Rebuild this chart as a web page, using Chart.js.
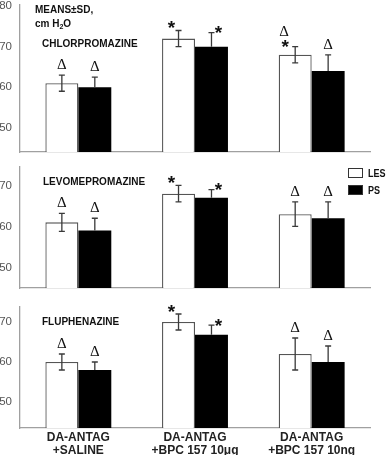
<!DOCTYPE html>
<html>
<head>
<meta charset="utf-8">
<script src="https://cdn.jsdelivr.net/npm/chart.js@4"></script>
<style>
  html, body { margin: 0; padding: 0; background: #fff; }
  #wrap { position: relative; width: 387px; height: 455px; }
  canvas { position: absolute; left: 0; }
</style>
</head>
<body>
<div id="wrap">
  <canvas id="p1" width="387" height="160" style="top:0"></canvas>
  <canvas id="p2" width="387" height="140" style="top:160px"></canvas>
  <canvas id="p3" width="387" height="155" style="top:300px"></canvas>
</div>
<script>
// ---- data ----
const groups = [
  ["DA-ANTAG", "+SALINE"],
  ["DA-ANTAG", "+BPC 157 10μg"],
  ["DA-ANTAG", "+BPC 157 10ng"],
];
const seriesNames = ["LES", "PS"];
const drugs = ["CHLORPROMAZINE", "LEVOMEPROMAZINE", "FLUPHENAZINE"];

// chlorpromazine
const lesChlor = [61, 72, 68];
const lesChlorSd = [2, 2, 2];
const psChlor = [60, 70, 64];
const psChlorSd = [2.5, 3.5, 4];
const lesChlorMark = ["Δ", "*", "Δ*"];
const psChlorMark = ["Δ", "*", "Δ"];

// levomepromazine
const lesLevo = [61, 68, 63];
const lesLevoSd = [2.2, 2, 3];
const psLevo = [59, 67, 62];
const psLevoSd = [3, 2, 4];
const lesLevoMark = ["Δ", "*", "Δ"];
const psLevoMark = ["Δ", "*", "Δ"];

// fluphenazine
const lesFlu = [60, 70, 62];
const lesFluSd = [2, 2, 4];
const psFlu = [58, 66.8, 60];
const psFluSd = [2, 2.4, 4];
const lesFluMark = ["Δ", "*", "Δ"];
const psFluMark = ["Δ", "*", "Δ"];

// y ranges per panel
const yMin = [44, 45, 43.5];
const yMax = [80.3, 74.5, 73.75];
const yTicks = [[50, 60, 70, 80], [50, 60, 70], [50, 60, 70]];

const NARROW = '"Liberation Sans Narrow", "Arial Narrow", "Liberation Sans", Arial, sans-serif';
const SANS = '"Liberation Sans", Arial, sans-serif';

// error bars, significance marks and texts
function decor(panel) {
  return {
    id: "decor",
    afterDatasetsDraw(chart) {
      const ctx = chart.ctx;
      const y = chart.scales.y;
      chart.data.datasets.forEach((ds, di) => {
        const meta = chart.getDatasetMeta(di);
        meta.data.forEach((bar, i) => {
          const v = ds.data[i];
          const sd = panel.sd[di][i];
          const top = y.getPixelForValue(v + sd);
          const low = y.getPixelForValue(v - sd);
          const cx = bar.x;
          ctx.save();
          ctx.strokeStyle = "#3a3a3a";
          ctx.lineWidth = 1.3;
          ctx.beginPath();
          ctx.moveTo(cx, di ? bar.y : low);
          ctx.lineTo(cx, top);
          ctx.moveTo(cx - 3, top);
          ctx.lineTo(cx + 3, top);
          if (!di) {
            ctx.moveTo(cx - 3, low);
            ctx.lineTo(cx + 3, low);
          }
          ctx.stroke();

          // marks
          const m = panel.marks[di][i];
          ctx.fillStyle = "#111";
          const delta = (x, bottom) => {
            ctx.font = '15px "Liberation Serif", "DejaVu Serif", serif';
            ctx.textAlign = "center";
            ctx.textBaseline = "alphabetic";
            ctx.fillText("Δ", x, bottom);
          };
          const star = (x, yc) => {
            ctx.font = "bold 19px " + SANS;
            ctx.textAlign = "center";
            ctx.textBaseline = "alphabetic";
            const mm = ctx.measureText("*");
            const off = (mm.actualBoundingBoxDescent - mm.actualBoundingBoxAscent) / 2;
            ctx.fillText("*", x, yc - off);
          };
          if (m === "Δ") delta(cx, top - 6);
          else if (m === "*") star(cx + (di ? 7 : -7), top - (di ? 3 : 6));
          else if (m === "Δ*") {
            star(cx - 10, top - 3);
            delta(cx - 11, top - 11);
          }
          ctx.restore();
        });
      });

      ctx.save();
      ctx.fillStyle = "#111";
      ctx.textBaseline = "middle";
      ctx.textAlign = "left";
      ctx.font = "bold 10px " + SANS;
      ctx.fillText(panel.title, panel.titleX, panel.titleY);

      if (panel.note) {
        ctx.font = "bold 10px " + SANS;
        ctx.fillText("MEANS±SD,", 35, 10);
        let x = 35;
        ctx.fillText("cm H", x, 24);
        x += ctx.measureText("cm H").width;
        ctx.font = "bold 7px " + SANS;
        ctx.fillText("2", x, 27);
        x += ctx.measureText("2").width;
        ctx.font = "bold 10px " + SANS;
        ctx.fillText("O", x, 24);
      }

      if (panel.legend) {
        const items = [
          { label: seriesNames[0], fill: "#fff", y: 8 },
          { label: seriesNames[1], fill: "#000", y: 25 },
        ];
        items.forEach((it) => {
          ctx.fillStyle = it.fill;
          ctx.fillRect(348, it.y, 15, 10);
          ctx.strokeStyle = "#333";
          ctx.lineWidth = 1;
          ctx.strokeRect(348.5, it.y + 0.5, 14, 9);
          ctx.fillStyle = "#111";
          ctx.font = "bold 11px " + NARROW;
          // squeeze horizontally to mimic the narrow face of the original
          ctx.save();
          ctx.translate(368, it.y + 6);
          ctx.scale(0.82, 1);
          ctx.fillText(it.label, 0, 0);
          ctx.restore();
        });
      }
      ctx.restore();
    },
  };
}

function makePanel(id, idx, les, ps, cfg) {
  const xh = cfg.xHeight;
  return new Chart(document.getElementById(id), {
    type: "bar",
    data: {
      labels: groups,
      datasets: [
        {
          label: seriesNames[0],
          data: les,
          backgroundColor: "#fff",
          borderColor: "#555",
          borderWidth: 1.3,
          borderSkipped: "bottom",
        },
        {
          label: seriesNames[1],
          data: ps,
          backgroundColor: "#000",
          borderColor: "#000",
          borderWidth: 0,
        },
      ],
    },
    options: {
      responsive: false,
      animation: false,
      events: [],
      categoryPercentage: 0.565,
      barPercentage: 1,
      layout: { padding: { top: cfg.top, right: 17, left: 0, bottom: 0 } },
      plugins: { legend: { display: false }, tooltip: { enabled: false } },
      scales: {
        x: {
          grid: { display: false, drawTicks: false },
          border: { display: true, color: "#a0a0a0", width: 1.3 },
          ticks: {
            display: cfg.showX,
            maxRotation: 0,
            autoSkip: false,
            padding: 3,
            color: "#222",
            font: { family: SANS, size: 12, weight: "bold", lineHeight: 1.1 },
          },
          afterFit: (s) => {
            s.height = xh;
            s.paddingLeft = 0;
            s.paddingRight = 0;
          },
        },
        y: {
          min: yMin[idx],
          max: yMax[idx],
          grid: { display: false, drawTicks: false },
          border: { display: true, color: "#a0a0a0", width: 1.3 },
          afterBuildTicks: (s) => { s.ticks = yTicks[idx].map((v) => ({ value: v })); },
          ticks: {
            padding: 8,
            color: "#555",
            font: { family: NARROW, size: 11.5 },
          },
          afterFit: (s) => {
            s.width = 20;
            s.paddingTop = 0;
            s.paddingBottom = 0;
          },
        },
      },
    },
    plugins: [decor(cfg)],
  });
}

makePanel("p1", 0, lesChlor, psChlor, {
  top: 5, xHeight: 8, showX: false,
  sd: [lesChlorSd, psChlorSd], marks: [lesChlorMark, psChlorMark],
  title: drugs[0], titleX: 42, titleY: 44, note: true, legend: false,
});
makePanel("p2", 1, lesLevo, psLevo, {
  top: 7, xHeight: 12, showX: false,
  sd: [lesLevoSd, psLevoSd], marks: [lesLevoMark, psLevoMark],
  title: drugs[1], titleX: 43, titleY: 22, note: false, legend: true,
});
makePanel("p3", 2, lesFlu, psFlu, {
  top: 7, xHeight: 27, showX: true,
  sd: [lesFluSd, psFluSd], marks: [lesFluMark, psFluMark],
  title: drugs[2], titleX: 42, titleY: 22, note: false, legend: false,
});
</script>
</body>
</html>
